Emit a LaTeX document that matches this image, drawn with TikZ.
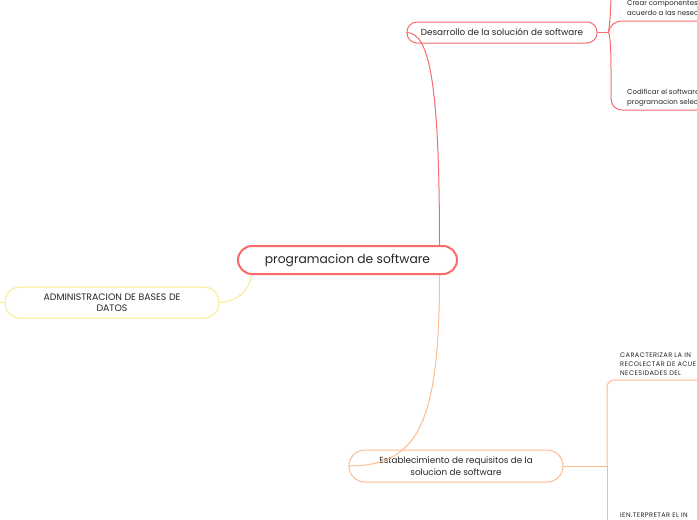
\documentclass[tikz,border=0pt]{standalone}
\usepackage{fontspec}
\setmainfont{Poppins}
\usetikzlibrary{positioning}
\definecolor{mapred}{HTML}{F76B6B}
\definecolor{maporange}{HTML}{FDBB90}
\definecolor{mapyellow}{HTML}{F8EC8C}
\tikzset{
	topic/.style = {draw, fill = white, align = center, inner sep = 0pt, line width = 1pt, text = black!85},
	leaf/.style = {anchor = north west, align = left, inner sep = 0pt, text = black!85, font = \fontsize{7}{10}\selectfont},
	capsleaf/.style = {leaf, font = \fontsize{6.6}{9}\selectfont\addfontfeatures{LetterSpace=6}},
	branch/.style = {line width = 1pt}
}
\begin{document}
\begin{tikzpicture}[x = 1pt, y = -1pt]
\useasboundingbox (0,0) rectangle (697,520);
\clip (0,0) rectangle (697,520);
\fill[white] (0,0) rectangle (697,520);

\node[topic, draw = mapred, line width = 2pt, rounded corners = 14pt, minimum width = 219pt, minimum height = 28pt, font = \fontsize{12.3}{14}\selectfont] (prog) at (347.5,260) {programacion de software};
\node[topic, draw = mapred, rounded corners = 10pt, minimum width = 190pt, minimum height = 21pt, font = \fontsize{8.8}{10}\selectfont] (desa) at (502,32.5) {Desarrollo de la solución de software};
\node[topic, draw = mapyellow, rounded corners = 15pt, minimum width = 214pt, minimum height = 31pt, font = \fontsize{9.4}{11.5}\selectfont] (admin) at (112,302.5) {ADMINISTRACION DE BASES DE\\DATOS};
\node[topic, draw = maporange, rounded corners = 16pt, minimum width = 214pt, minimum height = 32pt, font = \fontsize{8.8}{11.5}\selectfont] (esta) at (456,466) {Establecimiento de requisitos de la\\solucion de software};

% main branches
\draw[branch, mapred] ([xshift = 92pt]prog.north) .. controls +(0,-162) and +(23,0) .. (desa.west);
\draw[branch, maporange] ([xshift = 92pt]prog.south) .. controls +(0,146) and +(71,0) .. (esta.west);
\draw[branch, mapyellow] ([xshift = -96pt]prog.south) .. controls +(-3,19) and +(13,0) .. (admin.east);
\coordinate (adminout) at (-10,302.5);
\draw[branch, mapyellow] (admin.west) -- (adminout);

% leaves of Desarrollo
\coordinate (dj) at ([xshift = 11pt]desa.east);
\coordinate (dup) at (611,-10);
\coordinate (crear) at (623,21);
\coordinate (codif) at (623,110);
\draw[branch, mapred] (desa.east) -- (dj);
\draw[branch, mapred] (dj) .. controls +(2,-15) and +(0,15) .. (dup);
\draw[branch, mapred] (dj) .. controls +(2,-8) and +(-8,0) .. (crear) -- +(90,0);
\draw[branch, mapred] (dj) .. controls +(3,5) and +(0,-20) .. (611,96) .. controls +(0,10) and +(-8,0) .. (codif) -- +(90,0);
\node[leaf] (crear-t) at (627,0) {Crear componentes l\\acuerdo a las nesecid};
\node[leaf] (codif-t) at (627,88.5) {Codificar el software\\programacion selecc};

% leaves of Establecimiento
\coordinate (ej) at (607,466);
\coordinate (carac) at (710,380);
\coordinate (edown) at (607,530);
\draw[branch, maporange] (esta.east) -- (ej);
\draw[branch, maporange, rounded corners = 7pt] (ej) |- (carac);
\draw[branch, maporange] (ej) -- (edown);
\node[capsleaf] (carac-t) at (620,353) {CARACTERIZAR LA IN\\RECOLECTAR DE ACUE\\NECESIDADES DEL};
\node[capsleaf] (interp-t) at (620,513) {IEN.TERPRETAR EL IN};
\end{tikzpicture}
\end{document}
